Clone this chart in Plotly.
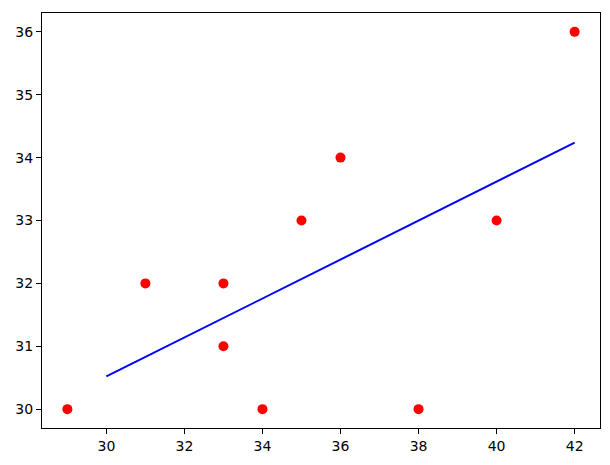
import numpy as np
import plotly.graph_objects as go

x_vals = [29, 31, 33, 33, 34, 35, 36, 38, 40, 42]
y_vals = [30, 32, 32, 31, 30, 33, 34, 30, 33, 36]
line_x = [30, 42]
x_ticks = [30, 32, 34, 36, 38, 40, 42]
y_ticks = [30, 31, 32, 33, 34, 35, 36]

slope, intercept = np.polyfit(x_vals, y_vals, 1)
line_y = [slope * v + intercept for v in line_x]

fig = go.Figure()
fig.add_trace(go.Scatter(x=x_vals, y=y_vals, mode="markers",
                         marker=dict(color="red", size=10, line=dict(width=0))))
fig.add_trace(go.Scatter(x=line_x, y=line_y, mode="lines",
                         line=dict(color="blue", width=2)))

axis_common = dict(showgrid=False, zeroline=False, showline=True, linecolor="black",
                   linewidth=1, mirror=True, ticks="outside", ticklen=5, tickwidth=1,
                   tickcolor="black", tickfont=dict(family="DejaVu Sans", size=14, color="black"))
fig.update_xaxes(range=[28.35, 42.65], tickvals=x_ticks, **axis_common)
fig.update_yaxes(range=[29.7, 36.3], tickvals=y_ticks, **axis_common)
# page body has an 8px margin; compensate so plot area lands at the reference position
fig.update_layout(width=594, height=449, margin=dict(l=34, r=2, t=5, b=29, pad=0),
                  plot_bgcolor="white", paper_bgcolor="white", showlegend=False)
fig.write_html("out.html")
